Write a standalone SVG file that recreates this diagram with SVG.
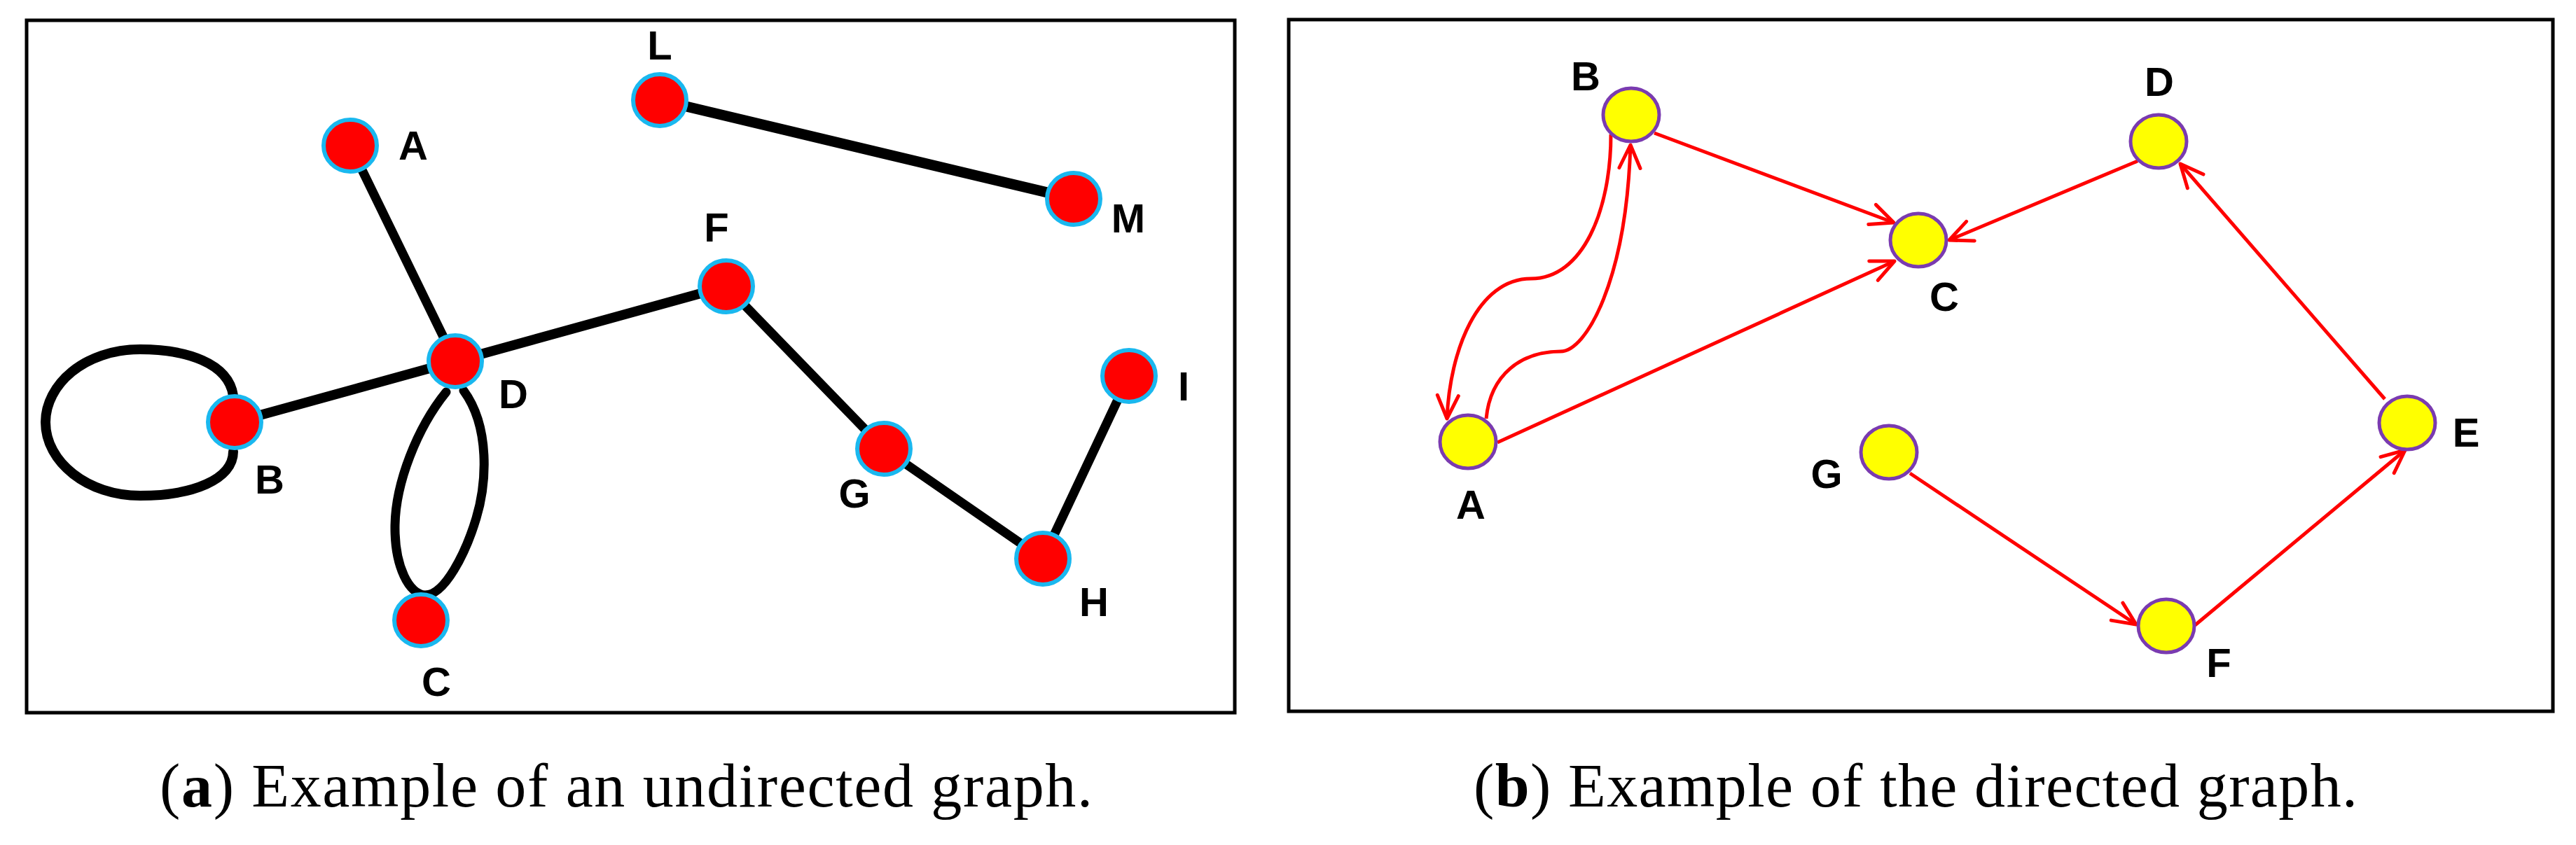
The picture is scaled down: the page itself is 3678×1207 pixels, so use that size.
<svg xmlns="http://www.w3.org/2000/svg" width="3678" height="1207" viewBox="0 0 3678 1207">
<style>
.frame{fill:none;stroke:#000;stroke-width:5}
.un{fill:none;stroke:#000;stroke-width:13;stroke-linecap:round}
.rn{fill:#ff0000;stroke:#1ab8ef;stroke-width:6}
.yn{fill:#ffff00;stroke:#7a3bb0;stroke-width:5}
.de{fill:none;stroke:#ff0000;stroke-width:5;marker-end:url(#arr)}
.lbl{font-family:"Liberation Sans",Arial,sans-serif;font-weight:700;font-size:58px;fill:#000;text-anchor:middle}
.cap{font-family:"Liberation Serif","Times New Roman",serif;font-size:88px;fill:#000}
</style>
<defs>
<marker id="arr" markerUnits="userSpaceOnUse" orient="auto" refX="0" refY="0" markerWidth="80" markerHeight="80" viewBox="-40 -40 80 80" overflow="visible">
<path d="M -33 -15 L 0 0 L -33 15" fill="none" stroke="#ff0000" stroke-width="5" stroke-linecap="round" stroke-linejoin="round"/>
</marker>
</defs>
<rect width="3678" height="1207" fill="#fff"/>
<rect class="frame" x="38" y="29" width="1725" height="989"/>
<rect class="frame" x="1840" y="28" width="1805" height="988"/>

<g id="connectors-a">
<line class="un" x1="942" y1="143" x2="1533" y2="284" style="stroke-width:15"/>
<line class="un" x1="500" y1="208" x2="650" y2="516"/>
<line class="un" x1="335" y1="603" x2="650" y2="516" style="stroke-width:14"/>
<line class="un" x1="650" y1="516" x2="1037" y2="409" style="stroke-width:14"/>
<line class="un" x1="1037" y1="409" x2="1262" y2="641"/>
<line class="un" x1="1262" y1="641" x2="1489" y2="798"/>
<line class="un" x1="1489" y1="798" x2="1612" y2="537"/>
<path class="un" style="stroke-width:14" d="M 333 565 C 326 518 265 499 200 499 C 120 499 65 550 65 603 C 65 660 125 708 200 708 C 275 708 333 685 333 645"/>
<path class="un" d="M 637 560 C 595 612 565 690 564 750 C 563 810 585 850 607 850 C 635 850 665 790 680 740 C 695 690 700 610 662 558"/>
</g>

<g id="node-a-L"><ellipse class="rn" cx="942" cy="143" rx="38" ry="37"/><text class="lbl" x="942" y="85">L</text></g>
<g id="node-a-A"><ellipse class="rn" cx="500" cy="208" rx="38" ry="37"/><text class="lbl" x="590" y="228">A</text></g>
<g id="node-a-M"><ellipse class="rn" cx="1533" cy="284" rx="38" ry="37"/><text class="lbl" x="1611" y="332">M</text></g>
<g id="node-a-F"><ellipse class="rn" cx="1037" cy="409" rx="38" ry="37"/><text class="lbl" x="1023" y="345">F</text></g>
<g id="node-a-D"><ellipse class="rn" cx="650" cy="516" rx="38" ry="37"/><text class="lbl" x="733" y="583">D</text></g>
<g id="node-a-I"><ellipse class="rn" cx="1612" cy="537" rx="38" ry="37"/><text class="lbl" x="1690" y="572">I</text></g>
<g id="node-a-B"><ellipse class="rn" cx="335" cy="603" rx="38" ry="37"/><text class="lbl" x="385" y="705">B</text></g>
<g id="node-a-G"><ellipse class="rn" cx="1262" cy="641" rx="38" ry="37"/><text class="lbl" x="1220" y="725">G</text></g>
<g id="node-a-H"><ellipse class="rn" cx="1489" cy="798" rx="38" ry="37"/><text class="lbl" x="1562" y="880">H</text></g>
<g id="node-a-C"><ellipse class="rn" cx="601" cy="886" rx="38" ry="37"/><text class="lbl" x="623" y="994">C</text></g>

<g id="connectors-b">
<line class="de" x1="2362" y1="190" x2="2704" y2="318"/>
<line class="de" x1="2138" y1="632" x2="2705" y2="373"/>
<line class="de" x1="3052" y1="230" x2="2783" y2="343"/>
<line class="de" x1="3405" y1="570" x2="3113" y2="234"/>
<line class="de" x1="2727" y1="676" x2="3050" y2="892"/>
<line class="de" x1="3134" y1="893" x2="3434" y2="643"/>
<path class="de" d="M 2300 192 C 2300 300 2260 398 2186 398 C 2110 398 2070 500 2066 598"/>
<path class="de" d="M 2122 598 C 2128 535 2172 502 2228 502 C 2265 502 2322 400 2328 207"/>
</g>

<g id="node-b-B"><ellipse class="yn" cx="2329" cy="164" rx="40" ry="38"/><text class="lbl" x="2264" y="129">B</text></g>
<g id="node-b-D"><ellipse class="yn" cx="3082" cy="202" rx="40" ry="38"/><text class="lbl" x="3083" y="137">D</text></g>
<g id="node-b-C"><ellipse class="yn" cx="2739" cy="343" rx="40" ry="38"/><text class="lbl" x="2776" y="444">C</text></g>
<g id="node-b-A"><ellipse class="yn" cx="2096" cy="631" rx="40" ry="38"/><text class="lbl" x="2100" y="741">A</text></g>
<g id="node-b-G"><ellipse class="yn" cx="2697" cy="646" rx="40" ry="38"/><text class="lbl" x="2608" y="697">G</text></g>
<g id="node-b-E"><ellipse class="yn" cx="3437" cy="604" rx="40" ry="38"/><text class="lbl" x="3521" y="638">E</text></g>
<g id="node-b-F"><ellipse class="yn" cx="3093" cy="894" rx="40" ry="38"/><text class="lbl" x="3168" y="967">F</text></g>

<text class="cap" x="228" y="1152" textLength="1332" lengthAdjust="spacing">(<tspan font-weight="700">a</tspan>) Example of an undirected graph.</text>
<text class="cap" x="2104" y="1152" textLength="1262" lengthAdjust="spacing">(<tspan font-weight="700">b</tspan>) Example of the directed graph.</text>
</svg>
